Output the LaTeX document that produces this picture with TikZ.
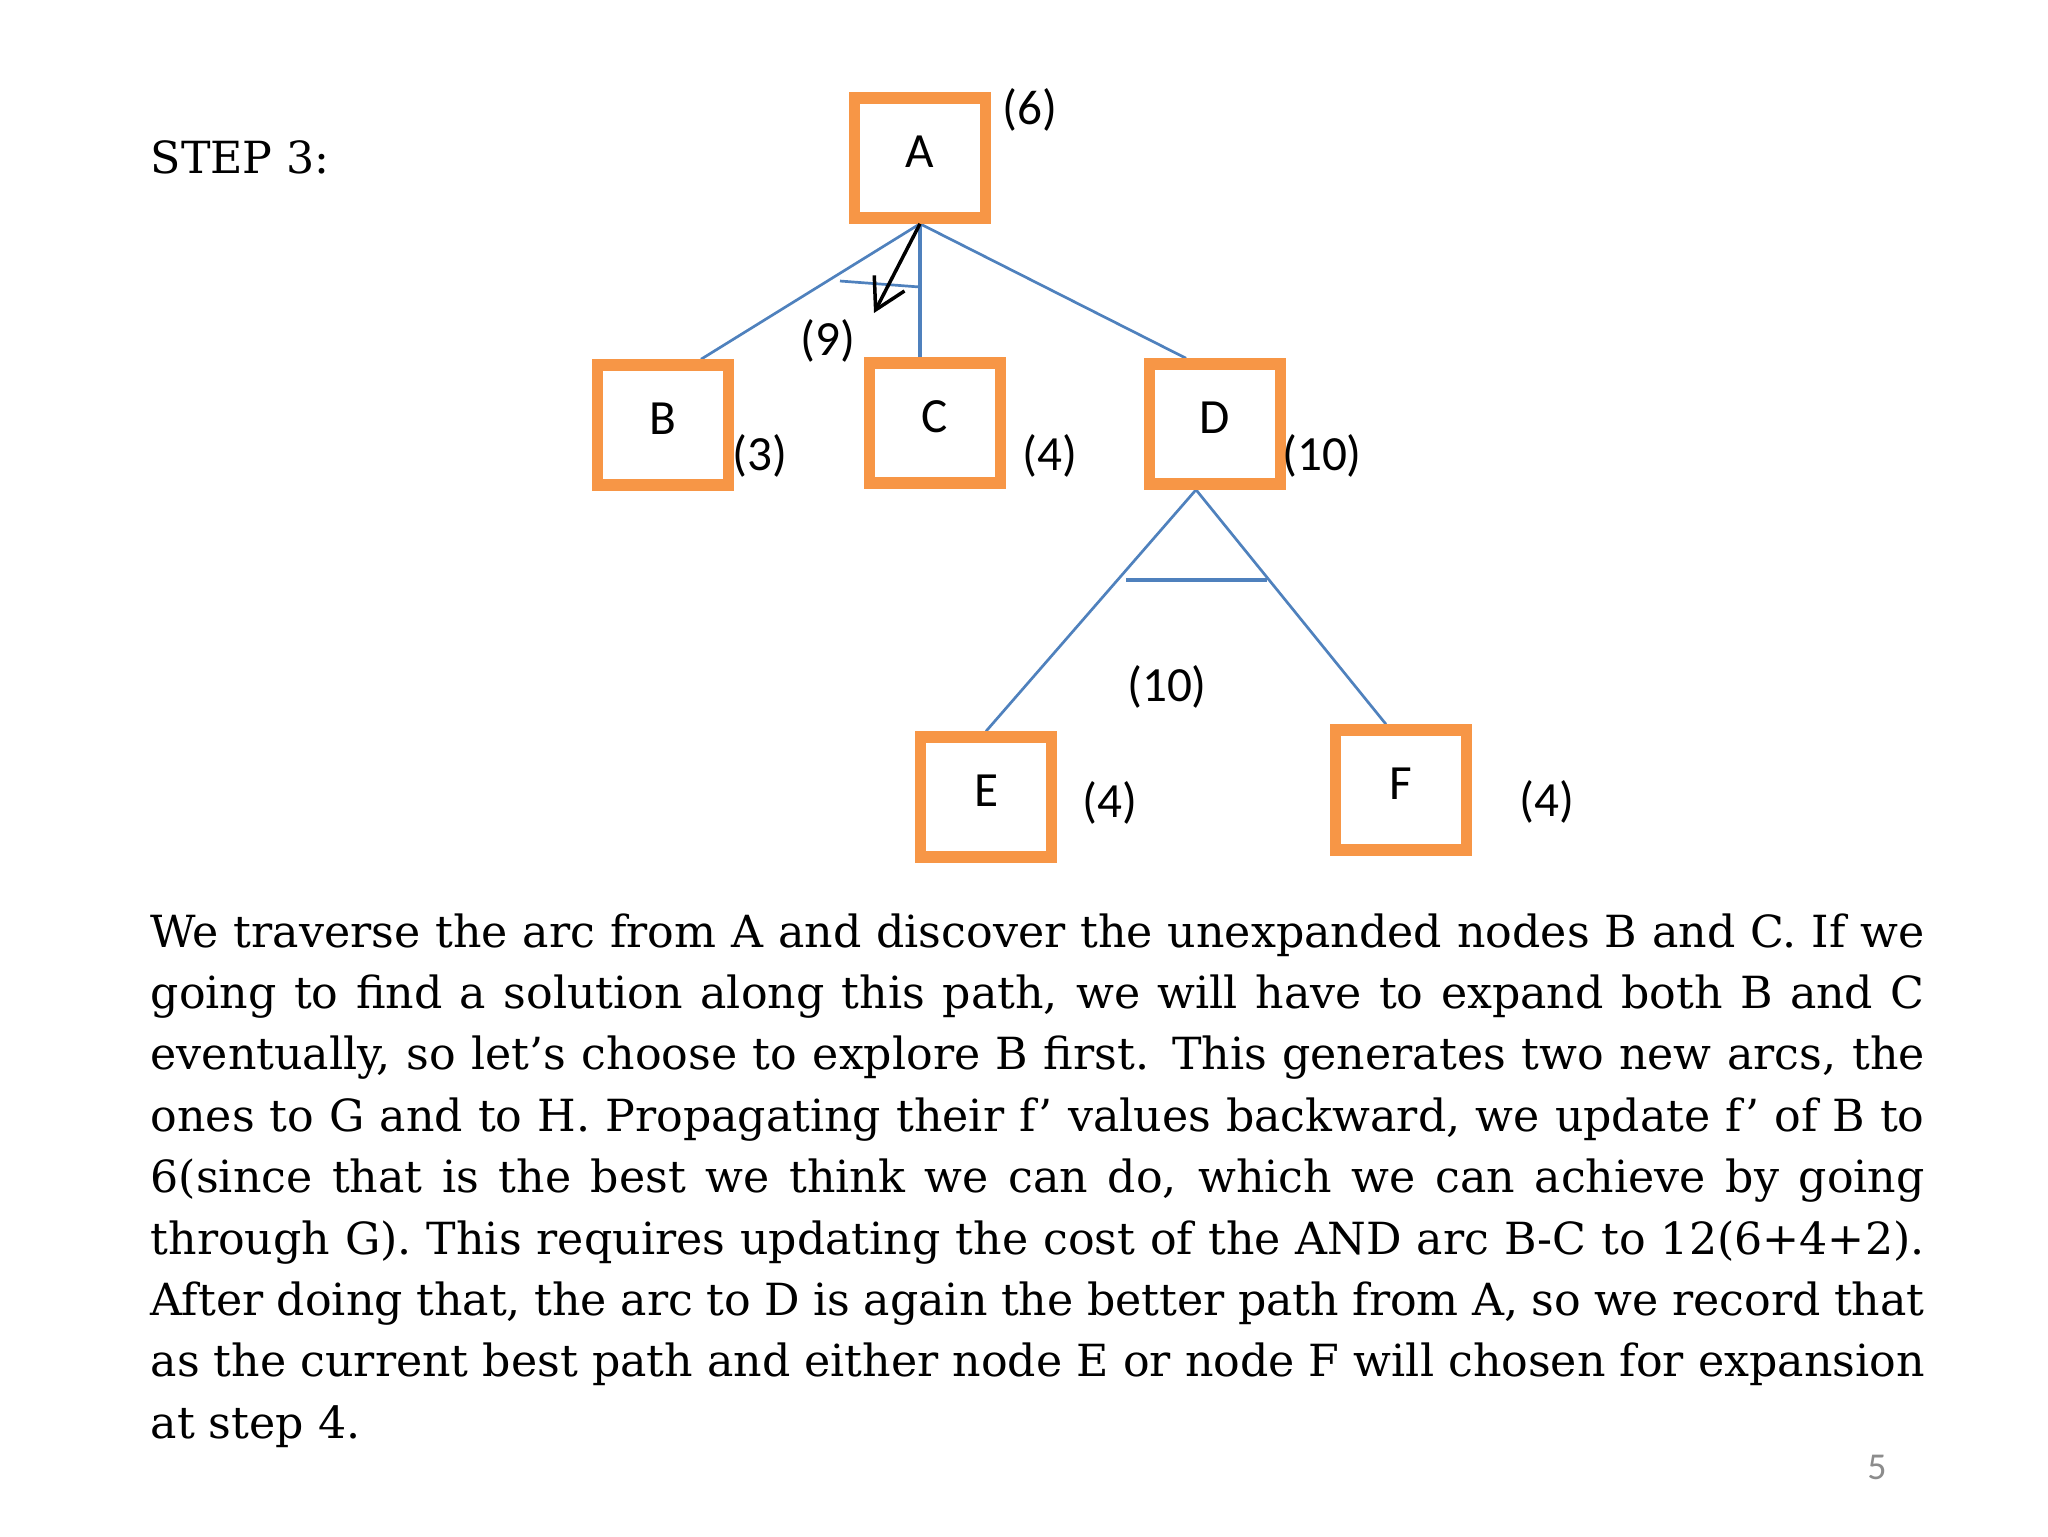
\documentclass[tikz,border=0pt]{standalone}
\usepackage{fontspec}
\setmainfont{DejaVu Serif}
\newfontfamily\labfont{Carlito}
\usetikzlibrary{arrows.meta,backgrounds}
\definecolor{oc}{HTML}{F79646}
\definecolor{bc}{HTML}{4F81BD}
\definecolor{pg}{HTML}{8C8C8C}
\newcommand{\labsize}{\labfont\fontsize{14pt}{16pt}\selectfont}
\tikzset{nd/.style={draw=oc,line width=1.15mm,minimum width=13.1mm,minimum height=12mm,inner sep=0pt,font=\labsize,text height=3.1mm,text depth=1.2mm},
 cost/.style={font=\labsize,inner sep=0pt},
 wire/.style={draw=bc,line width=.27mm},andbar/.style={draw=bc,line width=.42mm},
 arr/.style={-{Straight Barb[length=3mm,width=3.4mm]},line width=.35mm},
 body/.style={font=\fontsize{12.6pt}{17.47pt}\selectfont,inner sep=0pt}}

\begin{document}
\begin{tikzpicture}[x=0.1mm,y=-0.1mm]
\useasboundingbox (0,0) rectangle (2048,1536);
\node[body,anchor=base west] (step) at (150,173) {STEP 3:};
% tree
\node[nd] (A) at (920,158) {A};
\node[nd] (B) at (663,425) {B};
\node[nd] (C) at (935,423) {C};
\node[nd] (D) at (1215,424) {D};
\node[nd] (E) at (986,797) {E};
\node[nd] (F) at (1401,790) {F};
\node[cost] (cA) at (1030,110) {(6)};
\node[cost] (cB) at (760,456) {(3)};
\node[cost] (cC) at (1050,456) {(4)};
\node[cost] (cD) at (1322,456) {(10)};
\node[cost] (cBC) at (828,341) {(9)};
\node[cost] (cEF) at (1167,687) {(10)};
\node[cost] (cE) at (1110,803) {(4)};
\node[cost] (cF) at (1547,802) {(4)};
\coordinate (arcL) at (840,281);\coordinate (arcR) at (920,287);
\coordinate (tip) at (874,313);
\coordinate (barL) at (1126,580);\coordinate (barR) at (1267,580);
\begin{scope}[on background layer]
\draw[wire] (A.south)--([xshift=3.8mm]B.north);
\draw[wire,line width=.37mm] (A.south)--(A.south |- C.north);
\draw[wire] (A.south)--([xshift=-2.9mm]D.north);
\draw[wire] ([xshift=-1.9mm]D.south)--(E.north);
\draw[wire] ([xshift=-1.9mm]D.south)--([xshift=-1.5mm]F.north);
\end{scope}
\draw[wire] (arcL)--(arcR);\draw[andbar] (barL)--(barR);
\draw[arr] (A.south)--(tip);
% text
\node[body,anchor=base west,text width=177.4mm,align=justify] (txt) at (150,947) {\hyphenpenalty=10000\exhyphenpenalty=10000
We traverse the arc from A and discover the unexpanded nodes B and C. If we\linebreak
going to find a solution along this path, we will have to expand both B and C\linebreak
eventually, so let’s choose to explore B first. This generates two new arcs, the\linebreak
ones to G and to H. Propagating their f’ values backward, we update f’ of B to\linebreak
6(since that is the best we think we can do, which we can achieve by going\linebreak
through G). This requires updating the cost of the AND arc B-C to 12(6+4+2).\linebreak
After doing that, the arc to D is again the better path from A, so we record that\linebreak
as the current best path and either node E or node F will chosen for expansion\linebreak
at step 4.};
\node[font=\labfont\fontsize{10.8pt}{12pt}\selectfont,text=pg] (pnum) at (1877,1467) {5};
\end{tikzpicture}
\end{document}
